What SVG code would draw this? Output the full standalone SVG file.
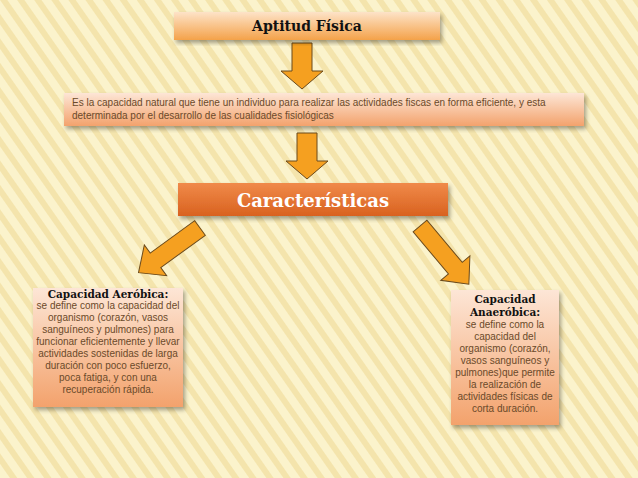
<svg xmlns="http://www.w3.org/2000/svg" width="638" height="478" viewBox="0 0 638 478">
<defs>
<pattern id="bg" width="14" height="14" patternUnits="userSpaceOnUse" patternTransform="rotate(-35)">
<rect width="14" height="14" fill="#fbf3cc"/><rect width="6" height="14" fill="#f4e4ac"/>
</pattern>
<linearGradient id="pe" x1="0" y1="0" x2="0" y2="1"><stop offset="0" stop-color="#fde6d6"/><stop offset="1" stop-color="#f3a26c"/></linearGradient>
<linearGradient id="ti" x1="0" y1="0" x2="0" y2="1"><stop offset="0" stop-color="#fde3c8"/><stop offset="1" stop-color="#f4a24a"/></linearGradient>
<linearGradient id="ca" x1="0" y1="0" x2="0" y2="1"><stop offset="0" stop-color="#f08a4a"/><stop offset="1" stop-color="#d9621f"/></linearGradient>
<filter id="sh" x="-10%" y="-10%" width="120%" height="130%"><feDropShadow dx="2" dy="3" stdDeviation="2" flood-color="#000" flood-opacity="0.35"/></filter>
<polygon id="arr" points="-10,0 10,0 10,28 21,28 0,46 -21,28 -10,28" fill="#f5a020" stroke="#6b4a1c" stroke-width="1"/>
<polygon id="arr2" points="-9,0 9,0 9,55 19,55 0,76 -19,55 -9,55" fill="#f5a020" stroke="#6b4a1c" stroke-width="1"/>
</defs>
<style>
.b{font-family:"DejaVu Serif",serif;font-weight:bold;fill:#111}
.t{font-family:"Liberation Sans","DejaVu Sans",sans-serif;fill:#6b4a2a;font-size:10px}
.c{text-anchor:middle}
</style>
<rect width="638" height="478" fill="url(#bg)"/>
<g id="connectors">
<use href="#arr" transform="translate(302,43)"/>
<use href="#arr" transform="translate(307,133)"/>
<use href="#arr2" transform="translate(200,228) rotate(54)"/>
<use href="#arr2" transform="translate(420,226) rotate(-40)"/>
</g>
<g id="title"><rect x="174" y="12" width="266" height="28" fill="url(#ti)" filter="url(#sh)"/>
<text class="b c" x="307" y="31" font-size="14">Aptitud Física</text></g>
<g id="def"><rect x="64" y="93" width="520" height="33" fill="url(#pe)" filter="url(#sh)"/>
<text class="t" x="72" y="106">Es la capacidad natural que tiene un individuo para realizar las actividades fiscas en forma eficiente, y esta</text>
<text class="t" x="72" y="119">determinada por el desarrollo de las cualidades fisiológicas</text></g>
<g id="car"><rect x="178" y="183" width="270" height="33" fill="url(#ca)" filter="url(#sh)"/>
<text class="b c" x="313" y="207" font-size="18" style="fill:#fff">Características</text></g>
<g id="aer"><rect x="33" y="288" width="150" height="119" fill="url(#pe)" filter="url(#sh)"/>
<text class="b c" x="108" y="298" font-size="10.5">Capacidad Aeróbica:</text>
<g class="t c"><text x="108" y="309">se define como la capacidad del</text><text x="108" y="321">organismo (corazón, vasos</text><text x="108" y="333">sanguíneos y pulmones) para</text><text x="108" y="345">funcionar eficientemente y llevar</text><text x="108" y="357">actividades sostenidas  de larga</text><text x="108" y="369">duración con poco esfuerzo,</text><text x="108" y="381">poca fatiga, y con una</text><text x="108" y="393">recuperación rápida.</text></g></g>
<g id="ana"><rect x="451" y="290" width="108" height="135" fill="url(#pe)" filter="url(#sh)"/>
<text class="b c" x="505" y="303" font-size="10.5">Capacidad</text><text class="b c" x="505" y="316" font-size="10.5">Anaeróbica:</text>
<g class="t c"><text x="505" y="328">se define como la</text><text x="505" y="340">capacidad del</text><text x="505" y="352">organismo (corazón,</text><text x="505" y="364">vasos sanguíneos y</text><text x="505" y="376">pulmones)que permite</text><text x="505" y="388">la realización de</text><text x="505" y="400">actividades físicas de</text><text x="505" y="412">corta duración.</text></g></g>
</svg>
